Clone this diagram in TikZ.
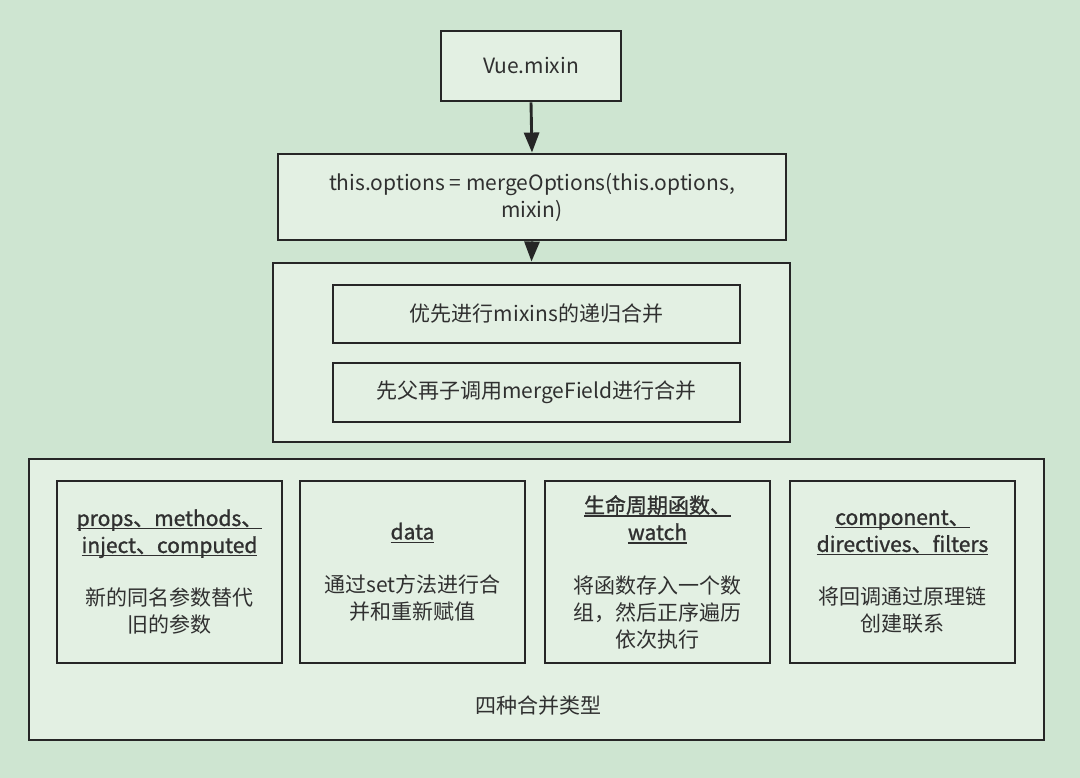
\documentclass[tikz,border=0pt]{standalone}
\usepackage{fontspec}
\setmainfont{Noto Sans CJK SC}
\newfontfamily\headfont{Noto Sans CJK SC}[FakeBold=1.2]
\usetikzlibrary{arrows.meta}
\definecolor{bg}{RGB}{206,229,209}
\definecolor{boxfill}{RGB}{227,240,227}
\definecolor{ln}{RGB}{38,38,38}
\definecolor{tx}{RGB}{48,48,48}
\newcommand\myul[1]{\setbox0\hbox{#1}\rlap{\rule[-3.5pt]{\wd0}{1.2pt}}\box0}
\begin{document}
\begin{tikzpicture}[x=1pt,y=-1pt,
  box/.style={draw=ln, line width=2.9pt, fill=boxfill, inner sep=0pt, text=tx, align=center, font=\fontsize{21}{27}\selectfont},
  lbl/.style={inner sep=0pt, text=tx, align=center, font=\fontsize{21}{27}\selectfont},
  arr/.style={draw=ln, line width=2.9pt, -{Triangle[length=20pt,width=15pt]}}]
\useasboundingbox (0,0) rectangle (1080,778);
\fill[bg] (0,0) rectangle (1080,778);
\node[box, minimum width=180, minimum height=70] (vue) at (531,66) {Vue.mixin};
\node[box, minimum width=508, minimum height=86] (merge) at (532,197) {this.options = mergeOptions(this.options,\\mixin)};
\node[box, minimum width=517, minimum height=179] (cont) at (531.5,352.5) {};
\node[box, minimum width=407, minimum height=58] (in1) at (536.5,314) {优先进行mixins的递归合并};
\node[box, minimum width=407, minimum height=59] (in2) at (536.5,392.5) {先父再子调用mergeField进行合并};
\node[box, minimum width=1015, minimum height=281] (big) at (536.5,599.5) {};
\node[box, minimum width=225, minimum height=182] (s1) at (169.5,572)
  {{\headfont\myul{props、methods、}}\\{\headfont\myul{inject、computed}}\\[26pt]新的同名参数替代\\旧的参数};
\node[box, minimum width=225, minimum height=182] (s2) at (412.5,572)
  {{\headfont\myul{data}}\\[26pt]通过set方法进行合\\并和重新赋值};
\node[box, minimum width=225, minimum height=182] (s3) at (657.5,572)
  {{\headfont\myul{生命周期函数、}}\\{\headfont\myul{watch}}\\[26pt]将函数存入一个数\\组，然后正序遍历\\依次执行};
\node[box, minimum width=225, minimum height=182] (s4) at (902.5,572)
  {{\headfont\myul{component、}}\\{\headfont\myul{directives、filters}}\\[26pt]将回调通过原理链\\创建联系};
\node[lbl] (lab) at (538,706) {四种合并类型};
\draw[arr] (vue.south) -- (merge.north);
\draw[arr] (merge.south) -- (cont.north);
\end{tikzpicture}
\end{document}
